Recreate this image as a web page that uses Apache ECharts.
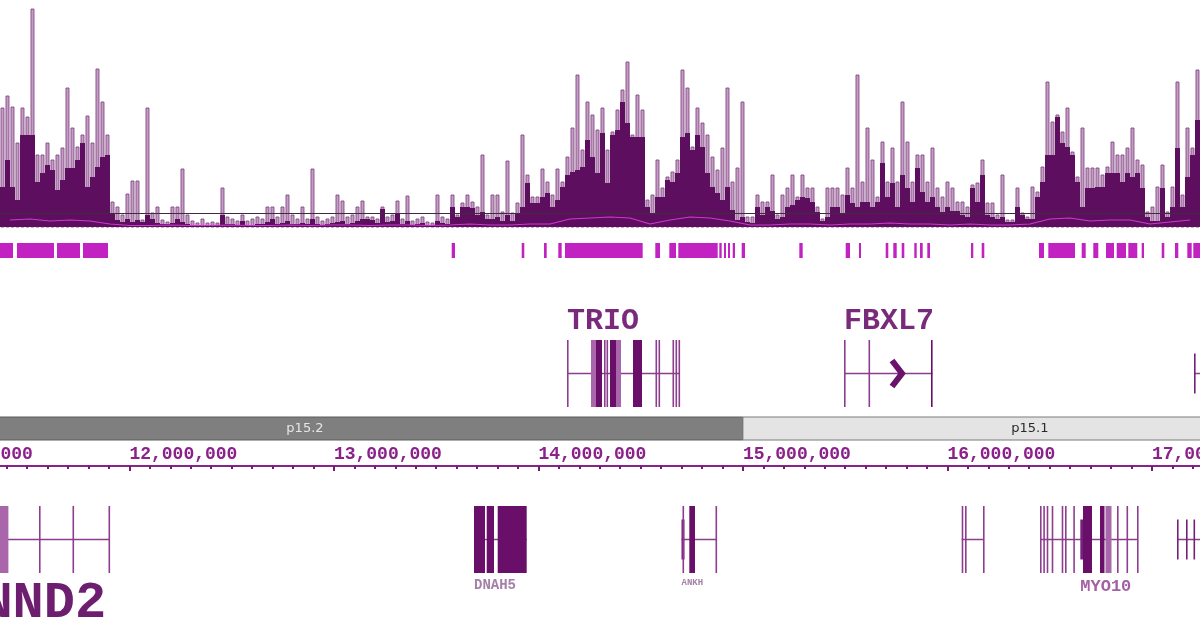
<!DOCTYPE html>
<html>
<head>
<meta charset="utf-8">
<title>chr5 p15 signal</title>
<script src="https://cdn.jsdelivr.net/npm/echarts@6/dist/echarts.min.js"></script>
<style>
  html, body { margin: 0; padding: 0; background: #fff; }
  #main { width: 1200px; height: 629px; }
</style>
</head>
<body>
<div id="main"></div>
<script>
// all positions in kb along chr5
const binStart = 11367.2;
const binStep = 24.45;

// signal track, tallest (pale) bar and dense (dark) bar per bin
const lightTops = [
  119, 131, 120, 84, 119, 110, 218, 72, 72, 84,
  67, 72, 79, 139, 99, 80, 92, 111, 84, 158,
  125, 92, 25, 20, 12, 33, 46, 46, 7, 119,
  14, 20, 7, 5, 20, 20, 58, 12, 6, 4,
  8, 4, 5, 4, 39, 10, 8, 6, 12, 6,
  8, 10, 8, 20, 20, 10, 20, 32, 12, 8,
  20, 8, 58, 10, 6, 8, 10, 32, 26, 10,
  12, 20, 26, 10, 10, 8, 20, 10, 12, 26,
  8, 31, 6, 8, 10, 5, 4, 32, 10, 8,
  32, 12, 24, 32, 25, 20, 72, 12, 32, 32,
  15, 66, 14, 24, 92, 52, 30, 30, 58, 45,
  32, 58, 45, 70, 99, 152, 77, 125, 112, 97,
  119, 77, 95, 117, 137, 165, 92, 132, 117, 27,
  32, 67, 39, 50, 55, 67, 157, 139, 80, 119,
  104, 92, 70, 57, 79, 139, 45, 59, 125, 10,
  10, 32, 25, 25, 52, 12, 32, 39, 52, 30,
  52, 39, 39, 20, 8, 39, 39, 39, 32, 59,
  39, 152, 45, 99, 67, 30, 85, 45, 79, 45,
  125, 85, 45, 72, 72, 45, 79, 39, 30, 45,
  39, 25, 25, 20, 42, 44, 67, 24, 24, 12,
  52, 7, 7, 39, 14, 10, 40, 35, 60, 145,
  105, 112, 95, 119, 75, 50, 99, 59, 59, 59,
  52, 60, 85, 72, 72, 79, 99, 67, 62, 15,
  20, 40, 62, 15, 40, 145, 32, 99, 79, 157
];
const darkTops = [
  40, 67, 40, 27, 92, 92, 92, 45, 54, 62,
  57, 37, 47, 59, 59, 67, 84, 40, 50, 60,
  70, 72, 14, 7, 5, 8, 5, 7, 5, 12,
  8, 4, 3, 3, 4, 8, 5, 3, 2, 2,
  2, 2, 2, 2, 12, 3, 3, 2, 6, 2,
  2, 3, 3, 5, 8, 3, 4, 6, 3, 3,
  4, 3, 8, 3, 2, 3, 4, 5, 6, 3,
  4, 6, 8, 8, 7, 4, 18, 5, 6, 14,
  3, 6, 2, 3, 4, 2, 2, 6, 4, 3,
  20, 10, 20, 20, 19, 12, 15, 8, 8, 10,
  6, 12, 6, 14, 20, 44, 24, 24, 30, 34,
  20, 27, 40, 52, 55, 57, 60, 87, 70, 54,
  94, 44, 92, 97, 125, 104, 90, 90, 90, 20,
  14, 30, 30, 47, 45, 54, 90, 94, 77, 92,
  80, 54, 40, 34, 27, 40, 17, 7, 10, 5,
  4, 20, 12, 20, 16, 8, 10, 20, 22, 27,
  30, 29, 25, 15, 6, 10, 20, 20, 14, 32,
  24, 20, 25, 25, 20, 25, 64, 30, 44, 20,
  52, 39, 25, 59, 35, 25, 30, 20, 15, 20,
  16, 16, 12, 10, 39, 25, 52, 12, 10, 8,
  10, 5, 5, 20, 12, 8, 8, 30, 45, 72,
  72, 110, 84, 80, 72, 45, 20, 39, 39, 40,
  40, 54, 54, 54, 45, 54, 50, 54, 39, 10,
  6, 6, 39, 10, 20, 79, 20, 50, 72, 107
];

// background (magenta) level, one value per 97.8 kb
const bgStart = 11416.1;
const bgStep = 97.8;
const bgLevel = [
  7, 8, 6, 7, 6, 3, 1.5, 1.5, 2, 1.5,
  1.5, 2, 1.5, 1.5, 2, 1.5, 2, 2, 1.5, 2,
  2, 1.5, 2, 3, 2, 2, 3, 3, 8, 9,
  10, 9, 3, 7, 10, 9, 6, 2, 2, 3,
  3, 2, 3, 3, 4, 3, 3, 2, 3, 2,
  2, 3, 8, 9, 6, 7, 7, 3, 5, 7
];
const threshold = 13.5;

// called peaks [start, end]
const peaks = [
  [11367.2, 11430.8], [11450.3, 11631.3], [11645.9, 11758.4], [11773.1, 11895.3],
  [13576.0, 13592.2], [13918.3, 13931.0], [14027.4, 14040.6], [14097.3, 14113.9],
  [14130.1, 14510.0], [14571.6, 14594.6], [14640.1, 14672.8], [14684.1, 14876.8],
  [14884.6, 14896.3], [14907.6, 14917.3], [14927.1, 14936.9], [14950.1, 14961.4],
  [14994.1, 15010.3], [15275.8, 15292.4], [15502.7, 15523.7], [15567.7, 15577.5],
  [15698.3, 15711.0], [15735.4, 15752.1], [15776.5, 15789.2], [15838.1, 15849.9],
  [15866.0, 15879.2], [15901.7, 15914.9], [16115.4, 16126.6], [16167.7, 16180.4],
  [16447.9, 16472.4], [16493.4, 16624.0], [16656.7, 16676.3], [16713.4, 16737.9],
  [16775.5, 16814.7], [16827.9, 16873.3], [16884.6, 16928.6], [16950.1, 16961.4],
  [17047.9, 17060.6], [17113.0, 17129.1], [17173.1, 17194.6], [17202.4, 17240.0]
];

// gene models: [start, end, kind]  c = coding, l = light, t = thin, u = utr
const trioExons = [
  [14139.8, 14144.7, 't'], [14257.2, 14281.6, 'l'], [14281.6, 14311.0, 'c'],
  [14320.8, 14328.1, 't'], [14333.0, 14337.9, 't'], [14350.1, 14379.4, 'c'],
  [14379.4, 14403.9, 'l'], [14462.6, 14506.6, 'c'], [14572.6, 14577.5, 't'],
  [14587.3, 14592.2, 't'], [14655.7, 14660.6, 't'], [14670.4, 14675.3, 't'],
  [14685.1, 14692.4, 't']
];
const fbxl7Exons = [[15494.4, 15499.3, 't'], [15614.2, 15619.1, 't'], [15919.8, 15927.1, 'c']];
const fbxl7Arrow = [15714.4, 15792.7];
const edgeTopExons = [[17205.9, 17210.8, 'u']];

const ctnnd2Exons = [
  [11340.0, 11408.3, 'l'], [11557.9, 11562.8, 't'], [11721.7, 11726.6, 't'], [11897.8, 11902.7, 't']
];
const dnah5Exons = [[13685.1, 13738.9, 'c'], [13747.2, 13782.9, 'c'], [13801.0, 13942.8, 'c']];
const ankhExons = [
  [14699.7, 14714.4, 'u'], [14704.6, 14709.5, 't'], [14737.9, 14765.8, 'c'], [14866.0, 14870.9, 't']
];
const midExons = [[16069.9, 16074.8, 't'], [16086.1, 16091.0, 't'], [16174.1, 16179.0, 't']];
const preMyoExons = [
  [16452.8, 16457.7, 't'], [16468.9, 16473.8, 't'], [16485.6, 16490.5, 't'],
  [16510.0, 16514.9, 't'], [16558.9, 16563.8, 't'], [16575.1, 16580.0, 't'],
  [16615.6, 16620.5, 't']
];
const myo10Exons = [
  [16649.9, 16663.1, 'u'], [16663.1, 16707.1, 'c'], [16746.2, 16768.2, 'c'],
  [16773.1, 16802.4, 'l'], [16829.3, 16834.2, 't'], [16875.8, 16880.7, 't'],
  [16927.1, 16932.0, 't']
];
const edgeLowExons = [[17122.7, 17127.6, 'u'], [17166.7, 17171.6, 'u'], [17203.4, 17208.3, 'u']];

const topGenes = [
  { name: 'TRIO', start: 14139.8, end: 14692.4, exons: trioExons },
  { name: 'FBXL7', start: 15494.4, end: 15927.1, exons: fbxl7Exons, arrow: fbxl7Arrow },
  { name: '', start: 17205.9, end: 17300.0, exons: edgeTopExons }
];
const lowGenes = [
  { name: 'CTNND2', start: 10971.1, end: 11902.7, exons: ctnnd2Exons },
  { name: 'DNAH5', start: 13685.1, end: 13942.8, exons: dnah5Exons },
  { name: 'ANKH', start: 14699.7, end: 14870.9, exons: ankhExons },
  { name: '', start: 16069.9, end: 16179.0, exons: midExons },
  { name: '', start: 16452.8, end: 16649.9, exons: preMyoExons },
  { name: 'MYO10', start: 16649.9, end: 16932.0, exons: myo10Exons },
  { name: '', start: 17122.7, end: 17300.0, exons: edgeLowExons }
];

// cytobands [name, start, end]
const bands = [['p15.2', 9900, 15000], ['p15.1', 15000, 18400]];
const browserView = [10717, 17807];

// label look per gene
const labelSize = { TRIO: 30, FBXL7: 30, CTNND2: 52, DNAH5: 14, ANKH: 9, MYO10: 17 };
const labelColor = { TRIO: '#7a2a7a', FBXL7: '#7a2a7a', CTNND2: '#6e1e6e', DNAH5: '#a680a6', ANKH: '#a680a6', MYO10: '#a460a4' };
const exonColor = { c: '#690f69', l: '#aa66aa', t: '#8d3d8d', u: '#74207a' };

const chart = echarts.init(document.getElementById('main'));

// 11,000,000 sits 75 px left of the picture, 204.5 px per Mb
const GL = -75.1, GW = 1431.5;
const grids = [
  { top: 7, height: 220 },
  { top: 243, height: 15 },
  { top: 340, height: 67 },
  { top: 417, height: 23 },
  { top: 466, height: 10 },
  { top: 506, height: 67 }
].map(g => Object.assign({ left: GL, width: GW, outerBoundsMode: 'none', containLabel: false }, g));

const xAxes = grids.map((g, i) => ({
  gridIndex: i, type: 'value', min: 11000, max: 18000, interval: 1000, show: false
}));
// the ruler
xAxes[4] = {
  gridIndex: 4, type: 'value', position: 'top', min: 11000, max: 18000, interval: 1000,
  axisLine: { show: true, onZero: false, lineStyle: { color: '#8b228b', width: 2 } },
  axisTick: { show: true, inside: true, length: 5, lineStyle: { color: '#76187a', width: 2 } },
  minorTick: { show: true, splitNumber: 10, length: 3, lineStyle: { color: '#76187a', width: 2 } },
  splitLine: { show: false },
  axisLabel: {
    show: true, align: 'left', margin: 3, color: '#8b228b', hideOverlap: false,
    fontFamily: 'Liberation Mono', fontWeight: 'bold', fontSize: 18,
    formatter: v => (v * 1000).toLocaleString('en-US')
  }
};
const yAxes = grids.map((g, i) => ({
  gridIndex: i, type: 'value', min: 0, max: i === 0 ? 220 : 1, show: false
}));

function barRenderer(fill, stroke, inset) {
  return function (params, api) {
    const a = api.coord([api.value(0), 0]);
    const b = api.coord([api.value(1), 0]);
    const y = api.coord([api.value(0), api.value(2)])[1];
    return {
      type: 'rect',
      shape: { x: a[0] + inset, y: y, width: b[0] - a[0] - 2 * inset, height: a[1] - y },
      style: stroke ? { fill: fill, stroke: stroke, lineWidth: 0.9 } : { fill: fill }
    };
  };
}

function peakRenderer(params, api) {
  const cs = params.coordSys;
  const x1 = api.coord([api.value(0), 0])[0];
  const x2 = api.coord([api.value(1), 0])[0];
  return {
    type: 'rect',
    shape: { x: x1, y: cs.y, width: Math.max(2, x2 - x1), height: cs.height },
    style: { fill: '#c322c3' }
  };
}

function geneRenderer(list, below) {
  return function (params, api) {
    const g = list[params.dataIndex];
    const cs = params.coordSys;
    const top = cs.y, h = cs.height, mid = top + h / 2;
    const px = v => api.coord([v, 0])[0];
    const kids = [{
      type: 'line',
      shape: { x1: px(g.start), y1: mid, x2: px(g.end), y2: mid },
      style: { stroke: '#8d3d8d', lineWidth: 1.5 }
    }];
    g.exons.forEach(([s, e, k]) => {
      const x1 = px(s), x2 = px(e);
      const eh = k === 'u' ? 40 : h;
      kids.push({
        type: 'rect',
        shape: { x: x1, y: mid - eh / 2, width: Math.max(1.6, x2 - x1), height: eh },
        style: { fill: exonColor[k] }
      });
    });
    if (g.arrow) {
      const a0 = px(g.arrow[0]), a1 = px(g.arrow[1]);
      kids.push({
        type: 'polyline',
        shape: { points: [[a0 + 3, mid - 13], [a1 - 3, mid], [a0 + 3, mid + 13]] },
        style: { stroke: '#6a136a', lineWidth: 6, fill: null, lineJoin: 'miter' }
      });
    }
    if (g.name) {
      const size = labelSize[g.name];
      const y = below ? top + h + 5 + size / 2 : top - 19;
      kids.push({
        type: 'text',
        style: {
          text: g.name, x: px(g.start), y: y,
          font: 'bold ' + size + 'px "Liberation Mono", monospace',
          fill: labelColor[g.name],
          align: 'left', verticalAlign: 'middle', textAlign: 'left', textVerticalAlign: 'middle'
        }
      });
    }
    return { type: 'group', children: kids };
  };
}

function bandRenderer(params, api) {
  const band = bands[params.dataIndex];
  const cs = params.coordSys;
  const x1 = api.coord([band[1], 0])[0];
  const x2 = api.coord([band[2], 0])[0];
  const dark = params.dataIndex === 0;
  const c = (Math.max(band[1], browserView[0]) + Math.min(band[2], browserView[1])) / 2;
  return {
    type: 'group',
    children: [
      {
        type: 'rect',
        shape: { x: x1, y: cs.y, width: x2 - x1, height: cs.height },
        style: { fill: dark ? '#7f7f7f' : '#e4e4e4', stroke: dark ? '#5c5c5c' : '#7a7a7a', lineWidth: 1 }
      },
      {
        type: 'text',
        style: {
          text: band[0], x: api.coord([c, 0])[0], y: cs.y + cs.height / 2,
          font: '13px "DejaVu Sans", sans-serif', fill: dark ? '#e6e6e6' : '#2a2a2a',
          align: 'center', verticalAlign: 'middle', textAlign: 'center', textVerticalAlign: 'middle'
        }
      }
    ]
  };
}

const lightData = lightTops.map((v, i) => [binStart + i * binStep, binStart + (i + 1) * binStep, v]);
const darkData = darkTops.map((v, i) => [binStart + i * binStep, binStart + (i + 1) * binStep, v]);
const bgData = bgLevel.map((v, i) => [bgStart + i * bgStep, v]);

const option = {
  backgroundColor: '#ffffff',
  animation: false,
  grid: grids,
  xAxis: xAxes,
  yAxis: yAxes,
  series: [
    {
      type: 'custom', xAxisIndex: 0, yAxisIndex: 0, renderItem: barRenderer('#c49dc4', '#854b85', 1),
      encode: { x: [0, 1], y: 2 }, data: lightData, z: 2
    },
    {
      type: 'custom', xAxisIndex: 0, yAxisIndex: 0, renderItem: barRenderer('#5e0e5e', null, 0),
      encode: { x: [0, 1], y: 2 }, data: darkData, z: 3
    },
    {
      type: 'line', xAxisIndex: 0, yAxisIndex: 0, data: bgData, symbol: 'none', z: 4,
      lineStyle: { color: '#cc38cc', width: 1.2 },
      markLine: {
        silent: true, symbol: 'none', label: { show: false },
        lineStyle: { color: '#3d2d3d', width: 1.2, type: 'solid' },
        data: [{ yAxis: threshold }]
      }
    },
    {
      type: 'custom', xAxisIndex: 1, yAxisIndex: 1, renderItem: peakRenderer,
      encode: { x: [0, 1] }, data: peaks
    },
    {
      type: 'custom', xAxisIndex: 2, yAxisIndex: 2, renderItem: geneRenderer(topGenes, false),
      encode: { x: [0, 1] }, data: topGenes.map(g => [g.start, g.end])
    },
    {
      type: 'custom', xAxisIndex: 3, yAxisIndex: 3, renderItem: bandRenderer,
      encode: { x: [0, 1] }, data: bands.map(b => [b[1], b[2]])
    },
    {
      type: 'custom', xAxisIndex: 5, yAxisIndex: 5, renderItem: geneRenderer(lowGenes, true),
      encode: { x: [0, 1] }, data: lowGenes.map(g => [g.start, g.end])
    }
  ]
};

chart.setOption(option);
</script>
</body>
</html>
